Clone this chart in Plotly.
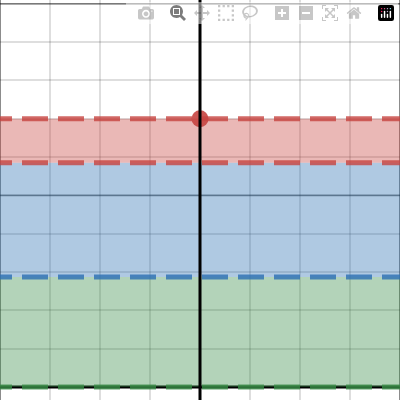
import plotly.graph_objects as go

x_range = [-4, 4]
y_range = [-0.34, 10.1]
red_band = [5.85, 7.0]
blue_band = [2.87, 5.85]
green_band = [0.0, 2.87]
point = (0, 7.0)

RED, BLUE, GREEN = "#c74440", "#2d70b3", "#388c46"

def rgba(col, a):
    return "rgba(%d,%d,%d,%s)" % (tuple(int(col[i:i+2], 16) for i in (1, 3, 5)) + (a,))

fig = go.Figure()
xs = [x_range[0] - 1, x_range[1] + 1]
for (lo, hi), col in [(green_band, GREEN), (blue_band, BLUE), (red_band, RED)]:
    fig.add_trace(go.Scatter(x=xs, y=[lo, lo], mode="lines", line=dict(width=0), showlegend=False, hoverinfo="skip"))
    fig.add_trace(go.Scatter(x=xs, y=[hi, hi], mode="lines", fill="tonexty", fillcolor=rgba(col, 0.38),
                             line=dict(width=0), showlegend=False, hoverinfo="skip"))

for y, col in [(green_band[0], GREEN), (green_band[1], BLUE), (blue_band[1], RED), (red_band[1], RED)]:
    fig.add_trace(go.Scatter(x=xs, y=[y, y], mode="lines",
                             line=dict(color=col, width=5, dash="26px,10px"),
                             opacity=0.8, showlegend=False, hoverinfo="skip"))

fig.add_trace(go.Scatter(x=[point[0]], y=[point[1]], mode="markers",
                         marker=dict(color=RED, size=17, opacity=0.9), showlegend=False))

shapes = []
for y in [5, 10]:
    shapes.append(dict(type="line", xref="paper", x0=0, x1=1, y0=y, y1=y, line=dict(color="rgba(0,0,0,0.45)", width=1.5), layer="below"))
for x in [-4, 4]:
    shapes.append(dict(type="line", yref="paper", y0=0, y1=1, x0=x, x1=x, line=dict(color="rgba(0,0,0,0.45)", width=2), layer="below"))
shapes.append(dict(type="line", yref="paper", y0=0, y1=1, x0=0, x1=0, line=dict(color="black", width=3), layer="above"))
shapes.append(dict(type="line", xref="paper", x0=0, x1=1, y0=0, y1=0, line=dict(color="black", width=3), layer="below"))

fig.update_layout(
    width=400, height=400, margin=dict(l=0, r=0, t=0, b=0),
    plot_bgcolor="white", paper_bgcolor="white", shapes=shapes,
    xaxis=dict(range=x_range, dtick=1, showgrid=True, gridcolor="rgba(0,0,0,0.13)", gridwidth=1.5,
               zeroline=False, showticklabels=False),
    yaxis=dict(range=y_range, dtick=1, showgrid=True, gridcolor="rgba(0,0,0,0.13)", gridwidth=1.5,
               zeroline=False, showticklabels=False),
)
fig.write_html("out.html", post_script="document.body.style.margin='0';")
